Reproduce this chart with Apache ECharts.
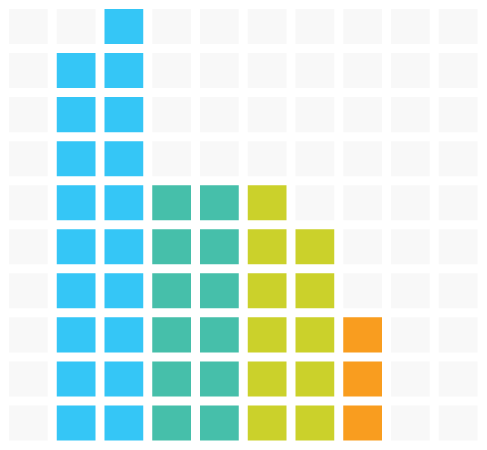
<!DOCTYPE html>
<html>
<head>
<meta charset="utf-8">
<script src="https://cdn.jsdelivr.net/npm/echarts@6/dist/echarts.min.js"></script>
<style>html,body{margin:0;padding:0;background:#fff;}#c{width:487px;height:450px;}</style>
</head>
<body>
<div id="c"></div>
<script>
var columns = ['1','2','3','4','5','6','7','8','9','10'];
var rows = ['1','2','3','4','5','6','7','8','9','10'];
var values = [0, 9, 10, 6, 6, 6, 5, 3, 0, 0];
var columnColors = ['#35c6f6', '#35c6f6', '#35c6f6', '#46bfaa', '#46bfaa', '#cbd12b', '#cbd12b', '#f99d1f', '#f99d1f', '#f99d1f'];
var emptyColor = '#f8f8f8';

var cells = [];
for (var i = 0; i < columns.length; i++) {
  for (var j = 0; j < rows.length; j++) {
    cells.push({
      value: [i, j],
      itemStyle: { color: j < values[i] ? columnColors[i] : emptyColor }
    });
  }
}

var chart = echarts.init(document.getElementById('c'));
chart.setOption({
  animation: false,
  grid: { left: 4.5, right: 5, top: 4.5, bottom: 5 },
  xAxis: { type: 'category', data: columns, show: false },
  yAxis: { type: 'category', data: rows, show: false },
  series: [{
    type: 'custom',
    data: cells,
    renderItem: function (params, api) {
      var c = api.coord([api.value(0), api.value(1)]);
      var s = api.size([1, 1]);
      var gap = 9;
      var w = s[0] - gap, h = s[1] - gap;
      return {
        type: 'rect',
        shape: { x: c[0] - w / 2, y: c[1] - h / 2, width: w, height: h },
        style: { fill: api.visual('color') }
      };
    }
  }]
});
</script>
</body>
</html>
